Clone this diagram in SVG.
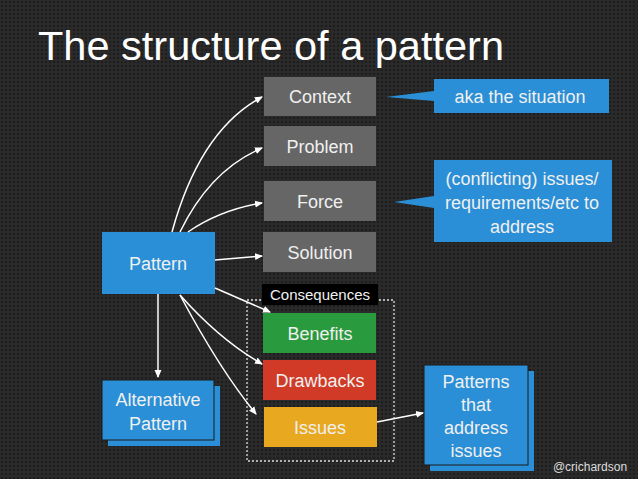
<svg xmlns="http://www.w3.org/2000/svg" width="638" height="479" viewBox="0 0 638 479">
<defs>
<pattern id="bg" width="4" height="4" patternUnits="userSpaceOnUse"><rect width="4" height="4" fill="#2a2a2a"/><circle cx="2" cy="2" r="1.1" fill="#1a1a1a"/></pattern>
<marker id="ah" markerWidth="8" markerHeight="8" refX="7" refY="4" orient="auto" markerUnits="userSpaceOnUse"><path d="M0,0.5 L8,4 L0,7.5 z" fill="#fff"/></marker>
<style>
text{font-family:"Helvetica Neue","Liberation Sans",Arial,sans-serif;fill:#f0f0f0;text-anchor:middle}
.t{font-size:18px}
.gray{fill:#666}
.blue{fill:#2a8fd6}
.c{stroke:#fff;stroke-width:1.5;fill:none;marker-end:url(#ah)}
</style>
</defs>
<rect width="638" height="479" fill="url(#bg)"/>
<text x="38" y="60" style="font-size:41.5px;text-anchor:start;fill:#fff">The structure of a pattern</text>
<rect x="247" y="300" width="147" height="161" fill="none" stroke="#ddd" stroke-width="1.3" stroke-dasharray="2,2"/>
<g id="context"><rect class="gray" x="264" y="77" width="112" height="39"/><text class="t" x="320" y="103">Context</text></g>
<g id="problem"><rect class="gray" x="264" y="126" width="112" height="40"/><text class="t" x="320" y="153">Problem</text></g>
<g id="force"><rect class="gray" x="264" y="181" width="112" height="40"/><text class="t" x="320" y="208">Force</text></g>
<g id="solution"><rect class="gray" x="263" y="232" width="113" height="40"/><text class="t" x="320" y="259">Solution</text></g>
<g id="consequences"><rect fill="#000" x="262" y="284" width="116" height="21"/><text x="320" y="300" style="font-size:15px">Consequences</text></g>
<g id="benefits"><rect fill="#2a9a3e" x="263" y="313" width="113" height="40"/><text class="t" x="320" y="340">Benefits</text></g>
<g id="drawbacks"><rect fill="#d13a26" x="263" y="360" width="113" height="40"/><text class="t" x="320" y="387">Drawbacks</text></g>
<g id="issues"><rect fill="#e8a820" x="264" y="407" width="113" height="40"/><text class="t" x="320" y="434">Issues</text></g>
<g id="pattern"><rect class="blue" x="102" y="232" width="113" height="62"/><text class="t" x="158" y="270">Pattern</text></g>
<g id="alternative"><rect class="blue" x="108" y="386" width="112" height="60"/><rect class="blue" x="102" y="380" width="112" height="60" stroke="#1a1a1a" stroke-width="1"/><text class="t" x="158" y="406">Alternative</text><text class="t" x="158" y="430">Pattern</text></g>
<g id="patterns-address"><rect class="blue" x="430" y="371" width="104" height="100"/><rect class="blue" x="424" y="365" width="104" height="100" stroke="#1a1a1a" stroke-width="1"/><text class="t" x="476" y="388">Patterns</text><text class="t" x="476" y="411">that</text><text class="t" x="476" y="434">address</text><text class="t" x="476" y="457">issues</text></g>
<g id="callout1"><path class="blue" d="M434,79 H609 V113 H434 V101 L386,97 L434,91 z"/><text class="t" x="520" y="103">aka the situation</text></g>
<g id="callout2"><path class="blue" d="M434,160 H612 V242 H434 V208 L394,202 L434,196 z"/><text class="t" x="522" y="185">(conflicting) issues/</text><text class="t" x="522" y="209">requirements/etc to</text><text class="t" x="522" y="233">address</text></g>
<text x="590" y="471" style="font-size:12px;fill:#ddd">@crichardson</text>
<g id="connectors">
<path class="c" d="M172,232 Q200,130 262,97"/>
<path class="c" d="M180,232 Q210,170 262,148"/>
<path class="c" d="M188,232 Q220,210 262,203"/>
<path class="c" d="M215,260 L262,256"/>
<path class="c" d="M215,288 L270,312"/>
<path class="c" d="M180,295 Q220,340 262,364"/>
<path class="c" d="M180,295 Q220,370 256,414"/>
<path class="c" d="M158,294 L158,377"/>
<path class="c" d="M377,422 L423,413"/>
</g>
</svg>
